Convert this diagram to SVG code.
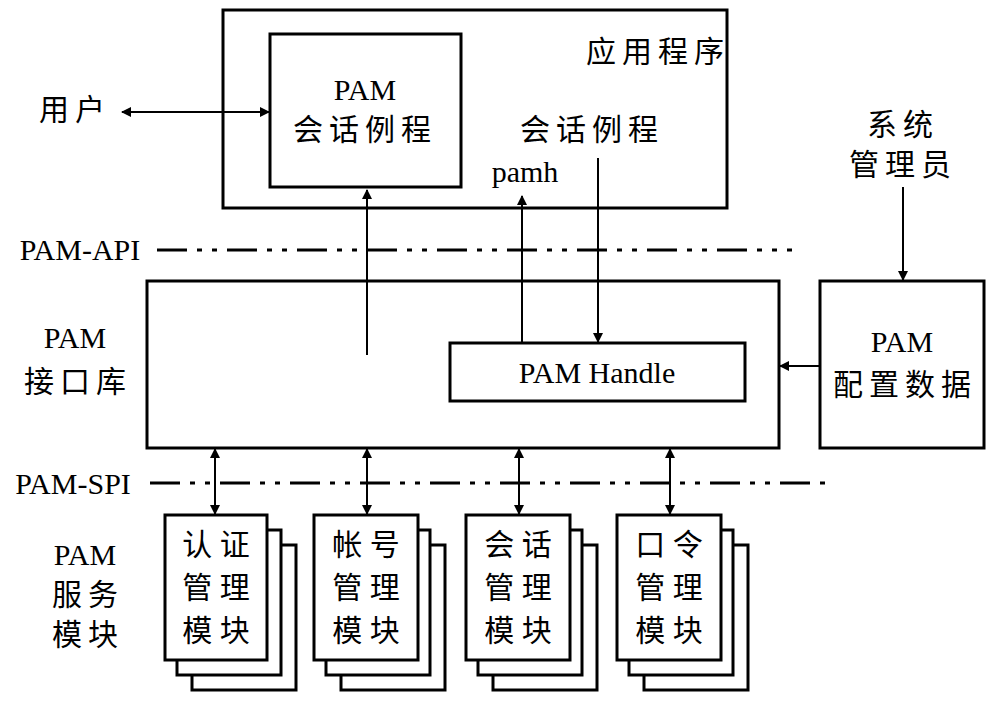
<svg xmlns="http://www.w3.org/2000/svg" width="994" height="704" viewBox="0 0 994 704">
<style>
.b{fill:#fff;stroke:#000;stroke-width:3}
.l{stroke:#000;stroke-width:2;fill:none}
.d{stroke:#000;stroke-width:3;stroke-dasharray:30 10 5 10 5 10}
text{font-family:"Liberation Serif","Noto Sans CJK SC",serif;font-size:30px;fill:#000}
.c{text-anchor:middle}
.s{letter-spacing:6px}
</style>
<defs>
<marker id="a" viewBox="0 0 10 10" refX="9" refY="5" markerWidth="5" markerHeight="5" orient="auto-start-reverse"><path d="M0,0L10,5L0,10z"/></marker>
</defs>
<rect width="994" height="704" fill="#fff"/>
<g id="app"><rect class="b" x="223" y="10" width="504" height="198"/><text x="658" y="62" class="c s">应用程序</text><text x="592" y="140" class="c s" font-size="24">会话例程</text></g>
<g id="routine"><rect class="b" x="270" y="34" width="191" height="153"/><text x="365" y="100" class="c" font-size="32">PAM</text><text x="365" y="140" class="c s">会话例程</text></g>
<g id="user"><text x="75" y="120" class="c s">用户</text></g>
<g id="pamh"><text x="525" y="182" class="c" font-size="22">pamh</text></g>
<g id="admin"><text x="903" y="135" class="c s">系统</text><text x="903" y="175" class="c s">管理员</text></g>
<g id="lib"><rect class="b" x="147" y="281" width="632" height="167"/><text x="75" y="348" class="c" font-size="32">PAM</text><text x="78" y="392" class="c s">接口库</text></g>
<g id="handle"><rect class="b" x="450" y="343" width="295" height="58"/><text x="597" y="383" class="c">PAM Handle</text></g>
<g id="config"><rect class="b" x="820" y="281" width="164" height="167"/><text x="902" y="352" class="c" font-size="32">PAM</text><text x="905" y="395" class="c s">配置数据</text></g>
<g id="api"><text x="80" y="260" class="c">PAM-API</text><line class="d" x1="157" y1="250" x2="792" y2="250"/></g>
<g id="spi"><text x="73" y="494" class="c">PAM-SPI</text><line class="d" x1="150" y1="483" x2="835" y2="483"/></g>
<g id="services"><text x="85" y="565" class="c" font-size="32">PAM</text><text x="88" y="605" class="c s">服务</text><text x="88" y="645" class="c s">模块</text></g>
<g id="m1"><rect class="b" x="192" y="545" width="104" height="145"/><rect class="b" x="177" y="530" width="104" height="145"/><rect class="b" x="165" y="515" width="102" height="145"/><text x="216" y="555" class="c">认 证</text><text x="216" y="598" class="c">管 理</text><text x="216" y="641" class="c">模 块</text></g>
<g id="m2"><rect class="b" x="341" y="545" width="104" height="145"/><rect class="b" x="326" y="530" width="104" height="145"/><rect class="b" x="314" y="515" width="104" height="145"/><text x="366" y="555" class="c">帐 号</text><text x="366" y="598" class="c">管 理</text><text x="366" y="641" class="c">模 块</text></g>
<g id="m3"><rect class="b" x="493" y="545" width="104" height="145"/><rect class="b" x="478" y="530" width="104" height="145"/><rect class="b" x="466" y="515" width="104" height="145"/><text x="518" y="555" class="c">会 话</text><text x="518" y="598" class="c">管 理</text><text x="518" y="641" class="c">模 块</text></g>
<g id="m4"><rect class="b" x="644" y="545" width="104" height="145"/><rect class="b" x="629" y="530" width="104" height="145"/><rect class="b" x="617" y="515" width="104" height="145"/><text x="669" y="555" class="c">口 令</text><text x="669" y="598" class="c">管 理</text><text x="669" y="641" class="c">模 块</text></g>
<g id="connectors">
<line class="l" x1="122" y1="112" x2="269" y2="112" marker-start="url(#a)" marker-end="url(#a)"/>
<line class="l" x1="367" y1="355" x2="367" y2="190" marker-end="url(#a)"/>
<line class="l" x1="522" y1="343" x2="522" y2="196" marker-end="url(#a)"/>
<line class="l" x1="598" y1="158" x2="598" y2="342" marker-end="url(#a)"/>
<line class="l" x1="903" y1="187" x2="903" y2="280" marker-end="url(#a)"/>
<line class="l" x1="820" y1="366" x2="780" y2="366" marker-end="url(#a)"/>
<line class="l" x1="215" y1="449" x2="215" y2="514" marker-start="url(#a)" marker-end="url(#a)"/>
<line class="l" x1="367" y1="449" x2="367" y2="514" marker-start="url(#a)" marker-end="url(#a)"/>
<line class="l" x1="519" y1="449" x2="519" y2="514" marker-start="url(#a)" marker-end="url(#a)"/>
<line class="l" x1="670" y1="449" x2="670" y2="514" marker-start="url(#a)" marker-end="url(#a)"/>
</g>
</svg>
